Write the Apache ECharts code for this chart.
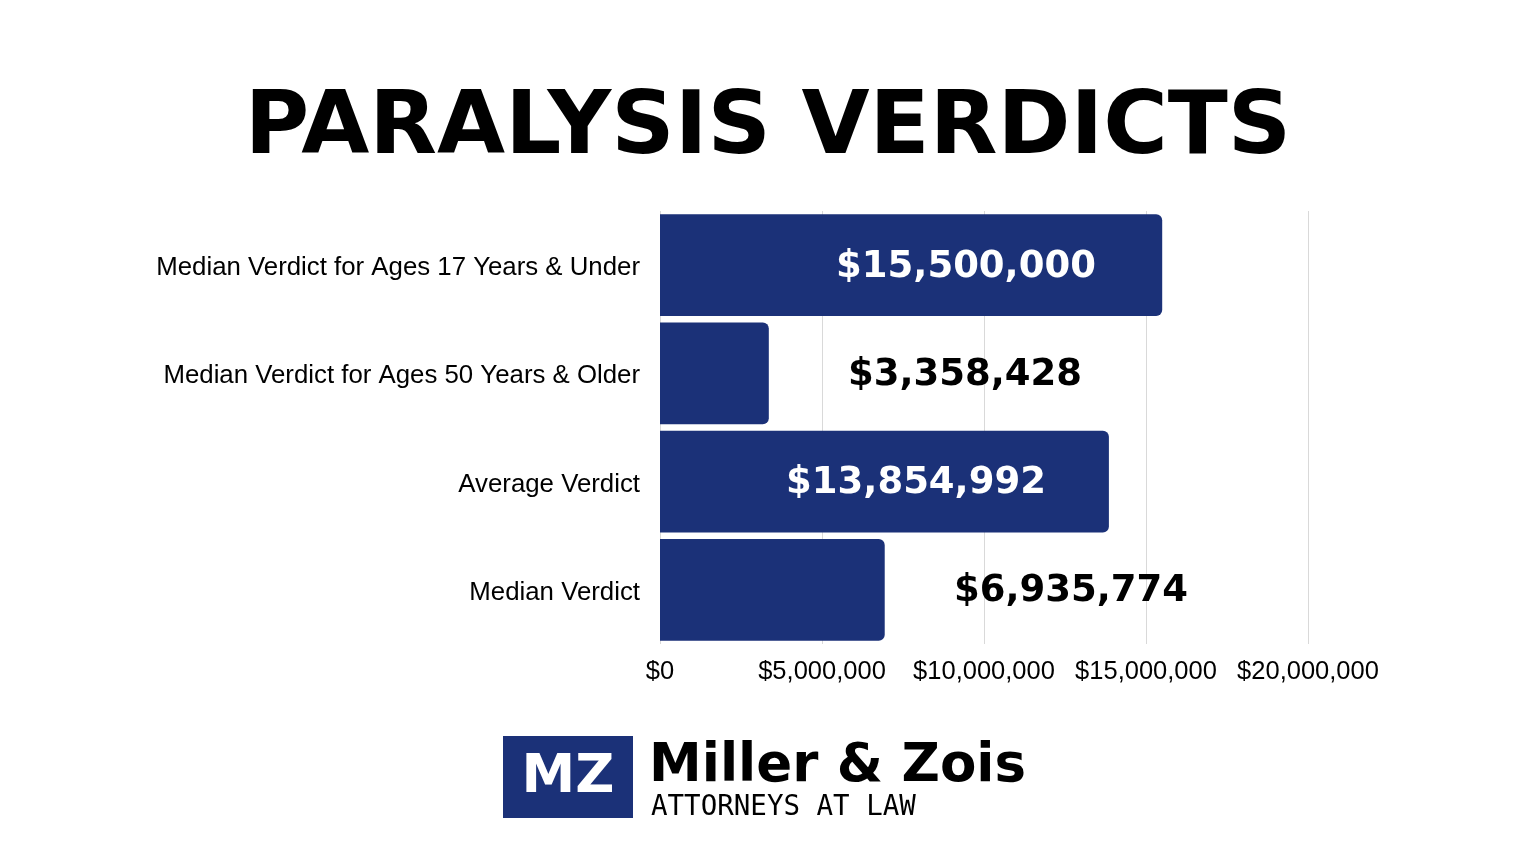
<!DOCTYPE html>
<html>
<head>
<meta charset="utf-8">
<script src="https://cdn.jsdelivr.net/npm/echarts@6/dist/echarts.min.js"></script>
<style>
html,body{margin:0;padding:0;background:#fff;}
#chart{width:1536px;height:864px;}
</style>
</head>
<body>
<div id="chart"></div>
<script>
var titleText = 'PARALYSIS VERDICTS';
var categories = [
  'Median Verdict for Ages 17 Years & Under',
  'Median Verdict for Ages 50 Years & Older',
  'Average Verdict',
  'Median Verdict'
];
var values = [15500000, 3358428, 13854992, 6935774];
var valueLabels = ['$15,500,000', '$3,358,428', '$13,854,992', '$6,935,774'];
var tickValues = [0, 5000000, 10000000, 15000000, 20000000];
var logoMark = 'MZ';
var logoName = 'Miller & Zois';
var logoTagline = 'ATTORNEYS AT LAW';

var NAVY = '#1b3178';
// label appearance per bar (colour + horizontal anchor from the bar's start)
var labelColors = ['#ffffff', '#000000', '#ffffff', '#000000'];
var labelAnchors = [306, 305, 256, 411];

function fmt(v) {
  return '$' + String(v).replace(/\B(?=(\d{3})+(?!\d))/g, ',');
}

var chart = echarts.init(document.getElementById('chart'), null, {renderer: 'canvas'});
var seriesData = values.map(function (v, i) {
  return {
    value: v,
    label: {
      show: true,
      formatter: valueLabels[i],
      position: [labelAnchors[i], '50%'],
      offset: [0, 2],
      align: 'center',
      verticalAlign: 'middle',
      color: labelColors[i],
      fontFamily: 'DejaVu Sans',
      fontWeight: 'bold',
      fontSize: 37
    }
  };
});

chart.setOption({
  backgroundColor: '#ffffff',
  animation: false,
  title: {
    text: titleText,
    left: 'center',
    top: 81,
    textStyle: {
      fontFamily: 'DejaVu Sans',
      fontWeight: 'bold',
      fontSize: 88,
      color: '#000000'
    }
  },
  grid: {left: 660, right: 1536 - 1308, top: 211, height: 433, containLabel: false},
  xAxis: {
    type: 'value',
    min: tickValues[0],
    max: tickValues[tickValues.length - 1],
    interval: tickValues[1] - tickValues[0],
    axisLine: {show: false},
    axisTick: {show: false},
    splitLine: {show: true, lineStyle: {color: '#d9d9d9', width: 1}},
    axisLabel: {
      formatter: fmt,
      fontFamily: 'Liberation Sans',
      fontSize: 25.5,
      color: '#000000',
      margin: 15
    }
  },
  yAxis: {
    type: 'category',
    data: categories,
    inverse: true,
    axisLine: {show: false},
    axisTick: {show: false},
    axisLabel: {
      margin: 20,
      formatter: function (v) { return '{c|' + v + '}'; },
      rich: {
        c: {
          fontFamily: 'Liberation Sans',
          fontSize: 25.8,
          color: '#000000',
          padding: [6, 0, 0, 0]
        }
      }
    }
  },
  series: [{
    type: 'bar',
    data: seriesData,
    barCategoryGap: '6%',
    itemStyle: {color: NAVY, borderRadius: [0, 6, 6, 0]}
  }],
  graphic: [
    {type: 'rect', shape: {x: 503, y: 736, width: 130, height: 82}, style: {fill: NAVY}},
    {type: 'text', x: 568, y: 778, style: {text: logoMark, fill: '#ffffff', fontFamily: 'DejaVu Sans', fontWeight: 'bold', fontSize: 54, align: 'center', verticalAlign: 'middle'}},
    {type: 'text', x: 649, y: 767, style: {text: logoName, fill: '#000000', fontFamily: 'DejaVu Sans', fontWeight: 'bold', fontSize: 53, align: 'left', verticalAlign: 'middle'}},
    {type: 'text', x: 651, y: 808, style: {text: logoTagline, fill: '#000000', fontFamily: 'DejaVu Sans Mono', fontSize: 27.5, align: 'left', verticalAlign: 'middle'}}
  ]
});
</script>
</body>
</html>
